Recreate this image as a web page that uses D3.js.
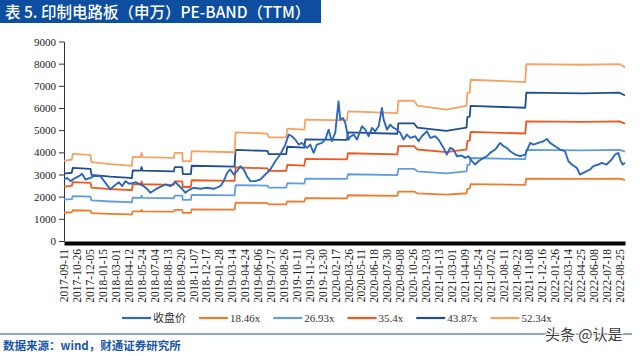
<!DOCTYPE html>
<html>
<head>
<meta charset="utf-8">
<script src="https://cdn.jsdelivr.net/npm/d3@7"></script>
<style>
  html, body { margin: 0; padding: 0; background: #fff; }
  svg { display: block; }
</style>
</head>
<body>
<svg id="chart" width="640" height="356"></svg>
<script>
// ---------------- DATA ----------------
const titleText = "表 5. 印制电路板（申万）PE-BAND（TTM）";
const sourceText = "数据来源：wind，财通证券研究所";
const watermarkText = "头条 @认是";

const xLabels = ["2017-09-11","2017-10-26","2017-12-05","2018-01-15","2018-03-01","2018-04-12","2018-05-24",
  "2018-07-04","2018-08-13","2018-09-20","2018-11-07","2018-12-17","2019-01-28","2019-03-14","2019-04-24",
  "2019-06-06","2019-07-17","2019-08-26","2019-10-11","2019-11-20","2019-12-30","2020-02-17","2020-03-26",
  "2020-05-11","2020-06-18","2020-07-30","2020-09-08","2020-10-26","2020-12-03","2021-01-13","2021-03-01",
  "2021-04-09","2021-05-24","2021-07-02","2021-08-11","2021-09-22","2021-11-08","2021-12-16","2022-01-26",
  "2022-03-14","2022-04-25","2022-06-08","2022-07-18","2022-08-25"];

const yTicks = [0,1000,2000,3000,4000,5000,6000,7000,8000,9000];

const seriesNames = ["收盘价","18.46x","26.93x","35.4x","43.87x","52.34x"];
const multiples = [18.46, 26.93, 35.4, 43.87, 52.34];

// TTM EPS of the index (position on the x axis in label periods, value)
const epsPeriod = [0,0.6,0.68,2.05,2.13,3.6,5.1,5.25,5.32,5.95,6.0,6.08,8.5,8.57,9.15,9.2,9.82,9.88,13.2,13.28,
  15.75,15.85,17.2,17.28,18.6,18.68,21.9,21.98,25.8,25.88,27.1,27.35,29.6,30.9,31.15,31.22,31.4,31.47,35.7,35.78,
  40.2,43.0,43.42];
const epsValue = [69.35,70.2,75.1,74.2,67.9,66.2,65.0,64.5,72.5,72.3,76.0,72.3,71.6,76.0,75.9,68.8,68.8,77.4,76.5,93.7,
  92.6,89.4,89.4,96.9,96.0,104.6,104.0,111.8,110.3,120.9,120.9,116.6,113.2,116.1,116.5,127.5,128.0,139.0,137.0,152.5,
  151.9,152.5,149.6];

// closing price (position in label periods, value)
const closePeriod = [0,0.24,0.5,0.89,1.15,1.4,1.66,2.05,2.31,2.82,3.21,3.6,3.85,4.24,4.5,4.76,5.01,5.27,5.53,5.91,
  6.17,6.43,6.69,7.07,7.46,7.85,8.23,8.62,8.88,9.14,9.4,9.65,10.04,10.55,11.07,11.59,12.1,12.36,12.62,12.88,
  13.13,13.39,13.65,13.91,14.16,14.42,14.81,15.19,15.58,15.97,16.35,16.74,17.13,17.39,17.64,17.9,18.16,18.41,18.8,19.06,
  19.32,19.57,19.96,20.22,20.48,20.73,20.99,21.25,21.38,21.59,21.77,22.02,22.16,22.42,22.68,23.06,23.32,23.58,23.84,24.09,
  24.35,24.61,24.74,25.0,25.25,25.51,25.77,26.03,26.28,26.54,26.8,27.19,27.44,27.7,28.09,28.35,28.73,28.99,29.38,29.63,
  29.89,30.15,30.41,30.79,31.05,31.31,31.57,31.82,32.08,32.47,32.73,32.98,33.37,33.76,34.02,34.27,34.53,34.92,35.3,35.69,
  36.08,36.34,36.72,37.11,37.37,37.62,38.01,38.4,38.78,39.04,39.3,39.69,39.94,40.2,40.46,40.72,40.97,41.36,41.62,42.0,
  42.39,42.65,42.91,43.09,43.24,43.42];
const closeValue = [2775,2850,2700,2850,2925,3030,2775,2850,2925,2925,2625,2325,2475,2655,2475,2700,2595,2595,2655,2550,
  2475,2355,2175,2325,2445,2550,2475,2655,2505,2355,2175,2295,2400,2355,2400,2355,2475,2700,3075,3225,
  3000,3150,3375,3225,2925,2700,2700,2775,3000,3225,3600,3900,4350,4800,4725,4575,4350,4425,4200,4350,
  3975,4350,4425,4575,5025,4500,4875,6300,5475,5550,5325,4575,4700,4800,4575,5175,5025,4725,5100,4950,
  5175,6000,5475,5025,5250,5100,5025,4875,4575,4800,4650,4725,4500,4725,4950,4650,4725,4575,4200,3900,
  4200,4125,3825,3855,3750,3825,3600,3450,3600,3750,3825,3975,4125,4425,4275,4200,4050,3900,3825,3900,
  4425,4350,4425,4500,4605,4425,4275,4125,4050,3600,3450,3300,3000,3075,3150,3225,3375,3450,3525,3450,
  3675,3900,3975,3600,3450,3525];

// ---------------- STYLE ----------------
const colors = {
  "收盘价": "#2d68be",
  "18.46x": "#ef7b2c",
  "26.93x": "#5e9de0",
  "35.4x":  "#f0581f",
  "43.87x": "#1f4f90",
  "52.34x": "#f5a262"
};
const serif = "'Liberation Serif','Times New Roman','Noto Sans CJK SC',serif";
const cjk = "'Noto Sans CJK SC','Noto Sans',sans-serif";

// ---------------- CHART ----------------
const svg = d3.select("#chart");

// title bar
svg.append("rect").attr("x",0).attr("y",0).attr("width",321).attr("height",23).attr("fill","#0d4ea1");
svg.append("text").attr("x",5).attr("y",17.5).attr("fill","#fff")
  .style("font-family",cjk).style("font-size","15.5px").style("font-weight","500")
  .text(titleText);

const x = d3.scaleLinear().domain([0, 43.42]).range([64, 625]);
const y = d3.scaleLinear().domain([0, 9000]).range([241, 41.5]);

// y axis
const gy = svg.append("g").attr("transform","translate(64,0)")
  .call(d3.axisLeft(y).tickValues(yTicks).tickFormat(d3.format("d")).tickSize(5).tickSizeOuter(0).tickPadding(3));
gy.select(".domain").attr("stroke","#333");
gy.selectAll(".tick line").attr("stroke","#333");
gy.selectAll("text").style("font-family",serif).style("font-size","11px").attr("fill","#222");

// lines
const bandData = multiples.map((m,k) => ({
  name: seriesNames[k+1],
  pts: epsPeriod.map((t,i) => [t, epsValue[i]*m])
}));
const closeData = { name: seriesNames[0], pts: closePeriod.map((t,i)=>[t, closeValue[i]]) };

const line = d3.line().x(d=>x(d[0])).y(d=>y(d[1]));

svg.append("g").selectAll("path").data(bandData).join("path")
  .attr("d", d=>line(d.pts)).attr("fill","none")
  .attr("stroke", d=>colors[d.name]).attr("stroke-width",1.8)
  .attr("stroke-linejoin","round");

svg.append("path").attr("d", line(closeData.pts)).attr("fill","none")
  .attr("stroke", colors[closeData.name]).attr("stroke-width",1.9).attr("stroke-linejoin","round");

// x axis
const gx = svg.append("g").attr("transform","translate(0,243)")
  .call(d3.axisBottom(x).tickValues(d3.range(xLabels.length)).tickFormat(i=>xLabels[i]).tickSize(0).tickSizeOuter(0));
gx.select(".domain").attr("stroke","#000").attr("stroke-width",4);
gx.selectAll("text")
  .attr("y",0).attr("x",-6).attr("dy","0.33em")
  .attr("transform","rotate(-90)")
  .style("text-anchor","end")
  .style("font-family",serif).style("font-size","11.5px").attr("fill","#222");

// legend
const legend = svg.append("g").attr("transform","translate(0,318)");
let lx = 122;
seriesNames.forEach(name => {
  legend.append("line").attr("x1",lx).attr("x2",lx+29).attr("y1",0).attr("y2",0)
    .attr("stroke",colors[name]).attr("stroke-width",2.2);
  const t = legend.append("text").attr("x",lx+31).attr("y",0).attr("dy","0.35em")
    .style("font-family",serif).style("font-size","11px").attr("fill","#333").text(name);
  lx += 31 + t.node().getComputedTextLength() + 13;
});

// footer
svg.append("line").attr("x1",0).attr("x2",632).attr("y1",334).attr("y2",334)
  .attr("stroke","#1f4e8c").attr("stroke-width",1.2);
svg.append("text").attr("x",3).attr("y",350).attr("fill","#1a56a8")
  .style("font-family",cjk).style("font-size","11.5px").style("font-weight","700")
  .text(sourceText);
svg.append("text").attr("x",545).attr("y",340).attr("fill","#3a3a3a")
  .attr("stroke","#fff").attr("stroke-width",2).style("paint-order","stroke")
  .style("font-family",cjk).style("font-size","15px")
  .text(watermarkText);
</script>
</body>
</html>
